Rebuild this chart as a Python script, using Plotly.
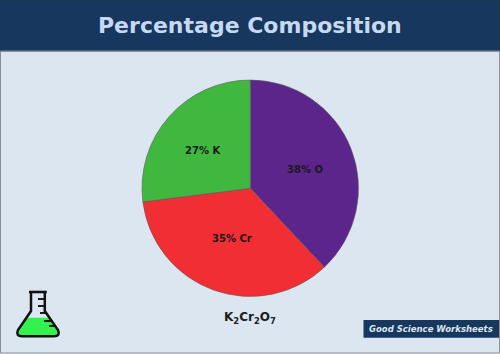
import plotly.graph_objects as go

elements = ["O", "Cr", "K"]
percentages = [38, 35, 27]
slice_colors = ["#5c258c", "#f02e33", "#40b840"]
title_text = "Percentage Composition"
formula_text = "K<sub>2</sub>Cr<sub>2</sub>O<sub>7</sub>"
brand_text = "<i>Good Science Worksheets</i>"

W, H = 500, 354
NAVY = "#17375e"
BODY = "#dce6f1"
FONT = "DejaVu Sans"
INK = "#111111"
LABEL_CENTRES = [(305.3, 169.8), (232, 238.3), (203.3, 150.3)]


def px(x):
    return x / W


def py(y):
    return 1 - y / H


def pt(x, y):
    return f"{px(x):.4f},{py(y):.4f}"


flask_path = ("M " + pt(31, 292) + " L " + pt(31, 311) + " L " + pt(18, 330)
              + " Q " + pt(15.5, 336.3) + " " + pt(22, 336.3)
              + " L " + pt(54, 336.3)
              + " Q " + pt(60.5, 336.3) + " " + pt(58, 330)
              + " L " + pt(44.8, 311) + " L " + pt(44.8, 292))
liquid_path = ("M " + pt(27, 317.7) + " L " + pt(48, 317.7) + " L " + pt(58, 331)
               + " Q " + pt(60, 336) + " " + pt(54, 336)
               + " L " + pt(22, 336)
               + " Q " + pt(16, 336) + " " + pt(18, 331) + " Z")


def paper_shape(**kw):
    return dict(xref="paper", yref="paper", **kw)


shapes = [
    paper_shape(type="rect", x0=0, x1=1, y0=py(51), y1=1,
                fillcolor=NAVY, line=dict(color="#27364a", width=1), layer="below"),
    paper_shape(type="rect", x0=px(0.5), x1=px(499.5), y0=py(353), y1=py(51),
                fillcolor="rgba(0,0,0,0)", line=dict(color="#8c8f96", width=1), layer="below"),
    paper_shape(type="rect", x0=px(363.5), x1=px(499), y0=py(337.7), y1=py(320),
                fillcolor=NAVY, line=dict(width=0), layer="below"),
    paper_shape(type="path", path=liquid_path, fillcolor="#33f24f", line=dict(width=0)),
    paper_shape(type="path", path=flask_path, fillcolor="rgba(0,0,0,0)",
                line=dict(color=INK, width=2.5)),
    paper_shape(type="line", x0=px(29), x1=px(46.8), y0=py(292), y1=py(292),
                line=dict(color=INK, width=2.6)),
]
for y, x1, x2 in [(299, 38, 44), (306, 38, 44), (313, 40, 47), (321, 44, 51), (326, 49, 55)]:
    shapes.append(paper_shape(type="line", x0=px(x1), x1=px(x2), y0=py(y), y1=py(y),
                              line=dict(color=INK, width=1.9)))

fig = go.Figure(go.Pie(
    labels=elements,
    values=percentages,
    sort=False,
    direction="clockwise",
    rotation=0,
    marker=dict(colors=slice_colors, line=dict(color="#5a5a5a", width=0.6)),
    textinfo="none",
    hovertemplate="%{value}% %{label}<extra></extra>",
    domain=dict(x=[px(142), px(358.5)], y=[py(296.5), py(80)]),
    showlegend=False,
))

annotations = [
    dict(text=f"<b>{title_text}</b>", x=0.5, y=py(26), font=dict(family=FONT, size=22, color="#c6d9f1")),
    dict(text=f"<b>{formula_text}</b>", x=0.5, y=py(317.5), font=dict(family=FONT, size=12, color="#1c1c1c")),
    dict(text=f"<b>{brand_text}</b>", x=px(431), y=py(329), font=dict(family=FONT, size=8.5, color="#dce6f1")),
]
for (cx, cy), p, e in zip(LABEL_CENTRES, percentages, elements):
    annotations.append(dict(text=f"<b>{p}% {e}</b>", x=px(cx), y=py(cy),
                            font=dict(family=FONT, size=10, color="#1a1a1a")))
for a in annotations:
    a.update(xref="paper", yref="paper", showarrow=False, xanchor="center", yanchor="middle")

fig.update_layout(
    width=W, height=H,
    margin=dict(l=0, r=0, t=0, b=0),
    paper_bgcolor=BODY,
    plot_bgcolor=BODY,
    shapes=shapes,
    showlegend=False,
    annotations=annotations,
)

fig.write_html("out.html", config=dict(displayModeBar=False),
               post_script="document.body.style.margin='0';document.documentElement.style.overflow='hidden';")
